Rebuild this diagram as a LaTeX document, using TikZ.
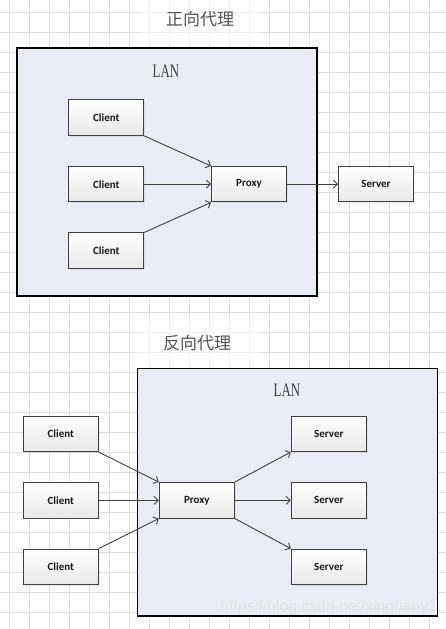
\documentclass[tikz,border=0pt]{standalone}
\usepackage{fontspec}
\setmainfont{Liberation Serif}
\newfontfamily\cjk{Noto Sans CJK SC}
\newfontfamily\boxfont{Carlito}
\newfontfamily\markfont{Liberation Sans}
\usepackage{xcolor}
\usepackage{tikz}
\usetikzlibrary{arrows.meta, positioning, shadows}
\definecolor{lanfill}{RGB}{232,237,245}
\definecolor{gridgray}{RGB}{222,222,222}
\definecolor{linegray}{RGB}{64,64,64}
\definecolor{titlegray}{RGB}{85,85,85}
\tikzset{
    gridline/.style={draw=gridgray, line width=0.9pt},
    lan/.style={rectangle, draw=black, line width=1.1pt, fill=lanfill, minimum width=300pt, minimum height=248pt},
    box/.style={rectangle, draw=linegray, line width=1pt, top color=white, bottom color=gray!18, minimum width=75pt, minimum height=35.5pt, inner sep=0pt, text centered, text=black!90, font=\boxfont\bfseries\fontsize{11}{13}\selectfont, drop shadow={shadow xshift=1.2pt, shadow yshift=-1.2pt, opacity=0.15}},
    title/.style={font=\cjk\fontsize{17}{20}\selectfont, text=titlegray},
    lanlabel/.style={font=\fontsize{19}{22}\selectfont, text=black!75, xscale=0.68},
    watermark/.style={font=\markfont\fontsize{15.7}{18}\selectfont, text=gray!22, inner sep=0pt},
    arrow/.style={-{Straight Barb[length=4pt, width=8pt]}, line width=0.9pt, draw=linegray}
}
\begin{document}
\begin{tikzpicture}[x=1pt, y=-1pt]
    \useasboundingbox (0,0) rectangle (446,629);
    \fill[white] (0,0) rectangle (446,629);

    % Grid paper
    \foreach \gx in {9,29,...,449} \draw[gridline] (\gx,0) -- (\gx,629);
    \foreach \gy in {12,32,...,632} \draw[gridline] (0,\gy) -- (446,\gy);
    \fill[white, opacity=0.6] (140,0) rectangle (260,44);
    \fill[white, opacity=0.6] (137,322) rectangle (260,366);

    % Forward proxy
    \node[title] (titleA) at (200,19) {正向代理};
    \node[lan] (lanA) at (167,172) {};
    \node[lanlabel] (lanlabelA) at (166,71) {LAN};
    \node[box] (proxyA) at (249,184.2) {Proxy};
    \node[box, left=66.7pt of proxyA] (clientA2) {Client};
    \node[box, above=30pt of clientA2] (clientA1) {Client};
    \node[box, below=30pt of clientA2] (clientA3) {Client};
    \node[box, right=51pt of proxyA] (serverA) {Server};

    \draw[arrow] (clientA1.south east) -- (proxyA.north west);
    \draw[arrow] (clientA2) -- (proxyA);
    \draw[arrow] (clientA3.north east) -- (proxyA.south west);
    \draw[arrow] (proxyA) -- (serverA);

    % Reverse proxy
    \node[title] (titleB) at (197,343) {反向代理};
    \node[lan, minimum height=247.5pt] (lanB) at (287.7,492.25) {};
    \node[lanlabel] (lanlabelB) at (287,390) {LAN};
    \node[box] (proxyB) at (196.8,500.3) {Proxy};
    \node[box, left=60pt of proxyB] (clientB2) {Client};
    \node[box, above=30pt of clientB2] (clientB1) {Client};
    \node[box, below=30pt of clientB2] (clientB3) {Client};
    \node[box, right=56pt of proxyB] (serverB2) {Server};
    \node[box, above=30pt of serverB2] (serverB1) {Server};
    \node[box, below=30pt of serverB2] (serverB3) {Server};

    \draw[arrow] (clientB1.south east) -- (proxyB.north west);
    \draw[arrow] (clientB2) -- (proxyB);
    \draw[arrow] (clientB3.north east) -- (proxyB.south west);
    \draw[arrow] (proxyB.north east) -- (serverB1.south west);
    \draw[arrow] (proxyB) -- (serverB2);
    \draw[arrow] (proxyB.south east) -- (serverB3.north west);

    \node[watermark, anchor=east] (mark) at (437,607) {https://blog.csdn.net/xinquany1};
\end{tikzpicture}
\end{document}
